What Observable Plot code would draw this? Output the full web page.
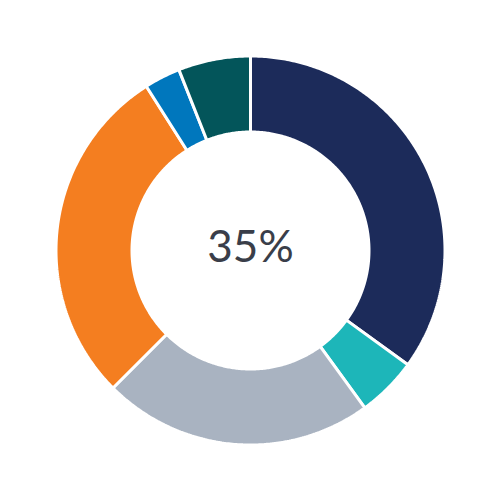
<!DOCTYPE html>
<html>
<head>
<meta charset="utf-8">
<script src="https://cdn.jsdelivr.net/npm/d3@7"></script>
<script src="https://cdn.jsdelivr.net/npm/@observablehq/plot@0.6"></script>
<style>
  html, body { margin: 0; padding: 0; background: #fff; }
  #chart { width: 500px; height: 500px; }
</style>
</head>
<body>
<div id="chart"></div>
<script>
// Data, clockwise from 12 o'clock
const categories = ["A", "B", "C", "D", "E", "F"];
const values = [35, 5, 22.5, 28.5, 3, 6];
const colors = ["#1c2b5a", "#1db6b9", "#a9b3c1", "#f47e20", "#0077bd", "#03555a"];
const centerLabel = values[0] + "%";

const outerR = 194.5;
const innerR = 118.5;

const pie = d3.pie().sort(null).value(d => d.value);
const arcs = pie(categories.map((c, i) => ({category: c, value: values[i]})));

// Build slice outlines from pie angles
const pts = [];
for (const a of arcs) {
  const steps = Math.max(8, Math.ceil((a.endAngle - a.startAngle) / 0.01));
  for (let k = 0; k <= steps; k++) {
    const t = a.startAngle + (a.endAngle - a.startAngle) * k / steps;
    pts.push({category: a.data.category, x: outerR * Math.sin(t), y: outerR * Math.cos(t)});
  }
  for (let k = steps; k >= 0; k--) {
    const t = a.startAngle + (a.endAngle - a.startAngle) * k / steps;
    pts.push({category: a.data.category, x: innerR * Math.sin(t), y: innerR * Math.cos(t)});
  }
}

const chart = Plot.plot({
  width: 500,
  height: 500,
  margin: 0,
  x: {domain: [-250, 250], axis: null},
  y: {domain: [-250, 250], axis: null},
  color: {domain: categories, range: colors, legend: false},
  marks: [
    Plot.line(pts, {x: "x", y: "y", z: "category", fill: "category", stroke: "white", strokeWidth: 3, curve: "linear-closed", strokeLinejoin: "miter"}),
    Plot.text([centerLabel], {x: () => 0, y: () => 0, text: d => d, fontSize: 44, fill: "#3a3e49", fontFamily: "Lato, 'Open Sans', sans-serif", fontWeight: 400, dy: -3})
  ]
});
document.getElementById("chart").appendChild(chart);
</script>
</body>
</html>
